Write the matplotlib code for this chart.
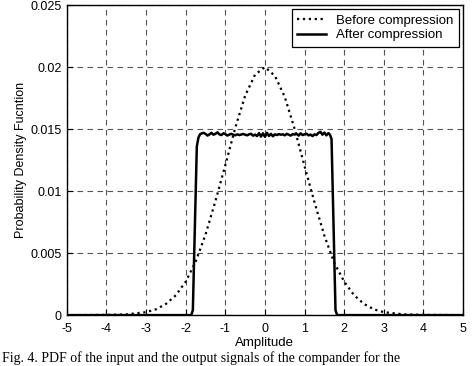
import matplotlib.pyplot as plt

plt.rcParams['font.family'] = ['Liberation Sans', 'DejaVu Sans']

# before compression: input pdf
before_x = [-5.0, -4.5, -4.0, -3.5, -3.0, -2.75, -2.5, -2.25, -2.0, -1.75, -1.5, -1.25,
            -1.0, -0.75, -0.5, -0.25, 0.0, 0.25, 0.5, 0.75, 1.0, 1.25, 1.5, 1.75,
            2.0, 2.25, 2.5, 2.75, 3.0, 3.5, 4.0, 4.5, 5.0]
before_y = [0.0, 0.00001, 0.00002, 0.00006, 0.00024, 0.00047, 0.00090, 0.0016, 0.0027,
            0.0043, 0.0065, 0.0092, 0.0121, 0.0151, 0.0177, 0.0194, 0.0200, 0.0193,
            0.0176, 0.0150, 0.0120, 0.0091, 0.0064, 0.0042, 0.0027, 0.0016, 0.00090,
            0.00046, 0.00024, 0.00006, 0.00002, 0.00001, 0.0]

# after compression: output pdf
after_x = [-5.0, -3.0, -1.86, -1.82, -1.72, -1.68, -1.64,
           -1.60, -1.55, -1.50, -1.45, -1.40, -1.35, -1.30, -1.25, -1.20, -1.15,
           -1.10, -1.05, -1.00, -0.95, -0.90, -0.85, -0.80, -0.75, -0.70, -0.65,
           -0.60, -0.55, -0.50, -0.45, -0.40, -0.35, -0.30, -0.25, -0.20, -0.15,
           -0.10, -0.05, 0.00, 0.05, 0.10, 0.15, 0.20, 0.25, 0.30, 0.35,
           0.40, 0.45, 0.50, 0.55, 0.60, 0.65, 0.70, 0.75, 0.80, 0.85,
           0.90, 0.95, 1.00, 1.05, 1.10, 1.15, 1.20, 1.25, 1.30, 1.35,
           1.40, 1.45, 1.50, 1.55, 1.60,
           1.64, 1.68, 1.78, 1.82, 3.0, 5.0]
after_y = [0.0, 0.0, 0.0, 0.0004, 0.0136, 0.0143, 0.01458,
           0.01465, 0.01470, 0.01462, 0.01448, 0.01458, 0.01470, 0.01455, 0.01462, 0.01474, 0.01458,
           0.01452, 0.01466, 0.01460, 0.01448, 0.01456, 0.01462, 0.01455, 0.01450, 0.01458, 0.01452,
           0.01456, 0.01461, 0.01455, 0.01450, 0.01458, 0.01462, 0.01447, 0.01456, 0.01444, 0.01468,
           0.01440, 0.01466, 0.01438, 0.01470, 0.01445, 0.01462, 0.01442, 0.01458, 0.01452, 0.01460,
           0.01455, 0.01458, 0.01450, 0.01462, 0.01455, 0.01448, 0.01460, 0.01456, 0.01462, 0.01448,
           0.01466, 0.01452, 0.01458, 0.01462, 0.01450, 0.01456, 0.01444, 0.01458, 0.01452, 0.01470,
           0.01478, 0.01455, 0.01472, 0.01450, 0.01468,
           0.01455, 0.0142, 0.0004, 0.0, 0.0, 0.0]

xticks = [-5, -4, -3, -2, -1, 0, 1, 2, 3, 4, 5]
yticks = [0, 0.005, 0.01, 0.015, 0.02, 0.025]
ytick_labels = ['0', '0.005', '0.01', '0.015', '0.02', '0.025']

fig = plt.figure(figsize=(4.74, 3.66), dpi=100)
ax = fig.add_axes([0.141, 0.139, 0.836, 0.847])

ax.plot(before_x, before_y, color='black', linestyle=':', linewidth=1.6, label='Before compression')
ax.plot(after_x, after_y, color='black', linestyle='-', linewidth=1.8, label='After compression')

ax.set_xlim(-5, 5)
ax.set_ylim(0, 0.025)
ax.set_xticks(xticks)
ax.set_xticklabels([str(t) for t in xticks])
ax.set_yticks(yticks)
ax.set_yticklabels(ytick_labels)
ax.tick_params(direction='in', length=4, labelsize=9, color='black')
ax.tick_params(axis='x', pad=6)
ax.grid(True, color='#555555', linestyle=(0, (5, 4)), linewidth=0.8)
for s in ax.spines.values():
    s.set_linewidth(1.0)

ax.set_xlabel('Amplitude', fontsize=9.5, labelpad=1)
ax.set_ylabel('Probability Density Fucntion', fontsize=9, labelpad=3)

leg = ax.legend(loc='upper right', fontsize=9.5, fancybox=False, framealpha=1,
                edgecolor='black', handlelength=2.2, borderpad=0.4,
                labelspacing=0.2, borderaxespad=0.3)
leg.get_frame().set_linewidth(0.9)

fig.text(0.005, 0.003, 'Fig. 4. PDF of the input and the output signals of the compander for the',
         family=['Liberation Serif', 'DejaVu Serif'], fontsize=10, va='bottom', ha='left')

fig.savefig('out.png', dpi=100)
